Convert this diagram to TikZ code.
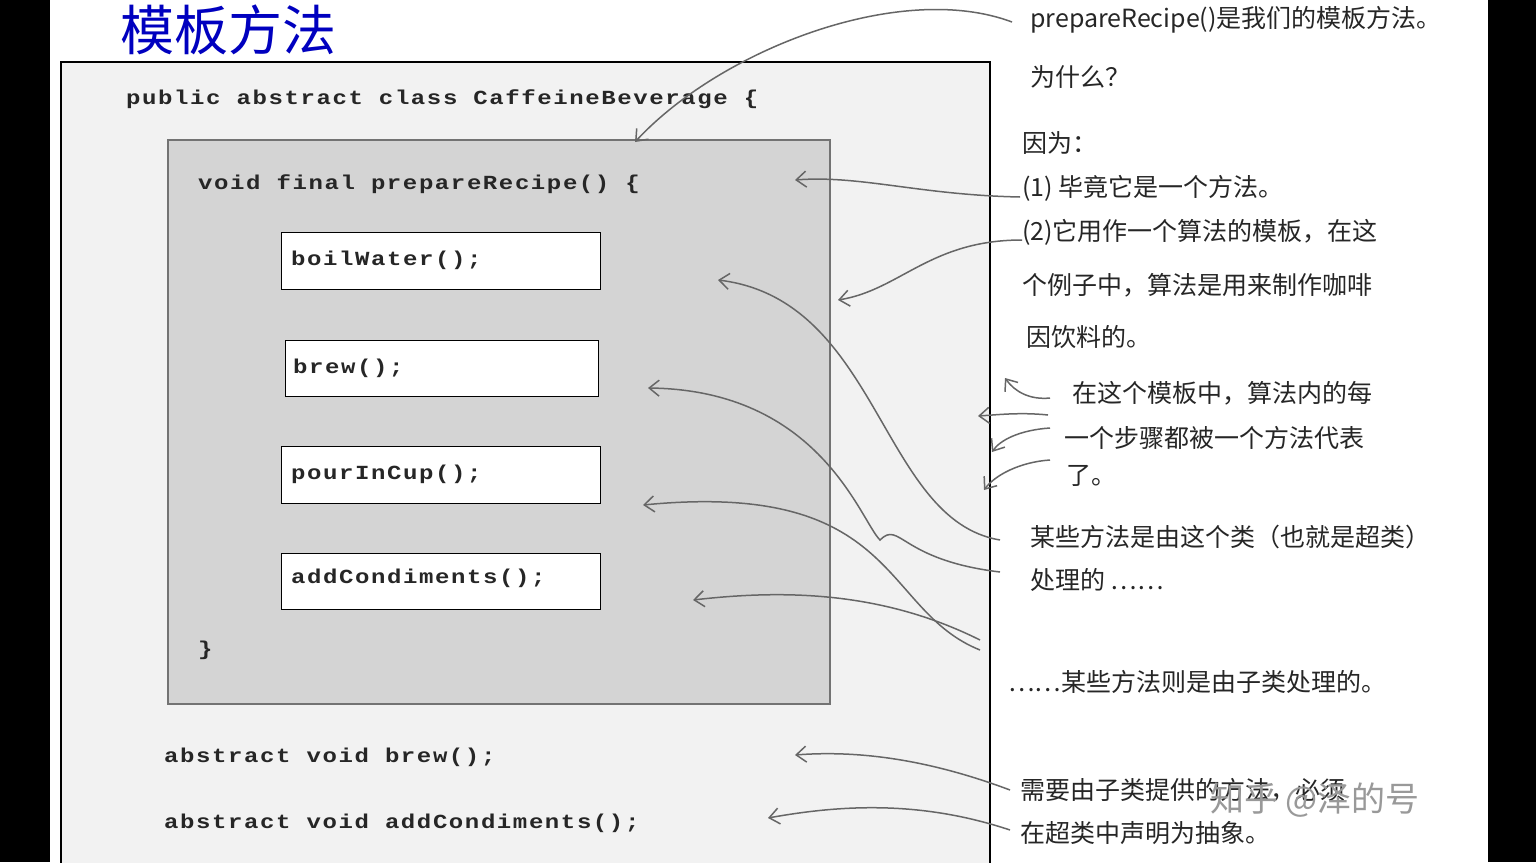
\documentclass[tikz,border=0pt]{standalone}
\usepackage{fontspec}
\newfontfamily\cjk{Noto Sans CJK SC}
\newfontfamily\mono[FakeStretch=1.2,LetterSpace=8]{Liberation Mono}
\usetikzlibrary{arrows.meta}
\begin{document}
\begin{tikzpicture}[x=1pt,y=-1pt,
 code/.style={font=\mono\bfseries\fontsize{20}{22}\selectfont,anchor=west,inner sep=0,text=black!85},
 stepbox/.style={draw=black,line width=1.2pt,fill=white,minimum width=319pt,minimum height=57pt,anchor=north west,inner sep=0},
 note/.style={font=\cjk\fontsize{25}{28}\selectfont,anchor=west,inner sep=0,text=black!85},
 hand/.style={draw=black!60,line width=1.5pt,-{Straight Barb[length=10pt,width=16pt]}}]
\useasboundingbox (0,0) rectangle (1536,862);
\fill[black] (0,0) rectangle (1536,862);
\fill[white] (50,0) rectangle (1488,862);
\node[font=\cjk\fontsize{54}{58}\selectfont,text=blue!75!black,anchor=west,inner sep=0] (title) at (120,30) {模板方法};
\draw[line width=1.3pt,fill=black!5] (61,62) rectangle (990,870);
\node[code] (cls) at (126,99) {public abstract class CaffeineBeverage \{};
\draw[line width=1.3pt,draw=black!55,fill=black!17] (168,140) rectangle (830,704);
\node[code] (pr) at (198,184) {void final prepareRecipe() \{};
\node[stepbox] (b1) at (281,232) {};
\node[code] at (291,260) {boilWater();};
\node[stepbox,minimum width=313pt,minimum height=56pt] (b2) at (285,340) {};
\node[code] at (293,368) {brew();};
\node[stepbox] (b3) at (281,446) {};
\node[code] at (291,474) {pourInCup();};
\node[stepbox,minimum height=56pt] (b4) at (281,553) {};
\node[code] at (291,578) {addCondiments();};
\node[code] (cb) at (198,650) {\}};
\node[code] (ab1) at (164,757) {abstract void brew();};
\node[code] (ab2) at (164,823) {abstract void addCondiments();};

\node[note] (n1) at (1030,20) {prepareRecipe()是我们的模板方法。};
\node[note] (n2) at (1030,77) {为什么？};
\node[note] (n3) at (1022,143) {因为：};
\node[note] (n4) at (1022,188) {(1) 毕竟它是一个方法。};
\node[note] (n5) at (1022,232) {(2)它用作一个算法的模板，在这};
\node[note] (n6) at (1022,285) {个例子中，算法是用来制作咖啡};
\node[note] (n7) at (1026,337) {因饮料的。};
\node[note] (n8) at (1072,393) {在这个模板中，算法内的每};
\node[note] (n9) at (1064,438) {一个步骤都被一个方法代表};
\node[note] (n10) at (1066,476) {了。};
\node[note] (n11) at (1030,537) {某些方法是由这个类（也就是超类）};
\node[note] (n12) at (1030,580) {处理的 ……};
\node[note] (n13) at (1008,682) {……某些方法则是由子类处理的。};
\node[note] (n14) at (1020,790) {需要由子类提供的方法，必须};
\node[note] (n15) at (1020,833) {在超类中声明为抽象。};
\node[font=\cjk\fontsize{34}{38}\selectfont,text=black!40,anchor=west,inner sep=0] (wm) at (1210,800) {知乎 @泽的号};

\coordinate (t1) at (635,142);
\draw[hand] (1012,22) .. controls (900,-20) and (720,50) .. (t1);
\coordinate (t2) at (795,180);
\draw[hand] (1020,197) .. controls (920,195) and (860,175) .. (t2);
\coordinate (t3) at (838,300);
\draw[hand] (1022,240) .. controls (930,240) and (900,290) .. (t3);
\coordinate (t4) at (718,280);
\draw[hand] (1000,540) .. controls (880,520) and (880,300) .. (t4);
\coordinate (t5) at (648,388);
\draw[hand] (1000,572) .. controls (900,560) and (900,520) .. (880,540) .. controls (860,520) and (820,390) .. (t5);
\coordinate (t6) at (643,505);
\draw[hand] (980,650) .. controls (880,610) and (900,480) .. (t6);
\coordinate (t7) at (693,600);
\draw[hand] (980,640) .. controls (880,590) and (780,590) .. (t7);
\coordinate (s1) at (1005,378);
\draw[hand] (1050,398) .. controls (1030,400) and (1015,392) .. (s1);
\coordinate (s2) at (978,416);
\draw[hand] (1048,415) .. controls (1020,412) and (995,415) .. (s2);
\coordinate (s3) at (992,452);
\draw[hand] (1050,428) .. controls (1020,430) and (1000,440) .. (s3);
\coordinate (s4) at (984,490);
\draw[hand] (1050,460) .. controls (1020,462) and (995,475) .. (s4);
\coordinate (t8) at (795,755);
\draw[hand] (1010,790) .. controls (930,760) and (860,750) .. (t8);
\coordinate (t9) at (768,818);
\draw[hand] (1010,830) .. controls (920,800) and (840,805) .. (t9);
\end{tikzpicture}
\end{document}
